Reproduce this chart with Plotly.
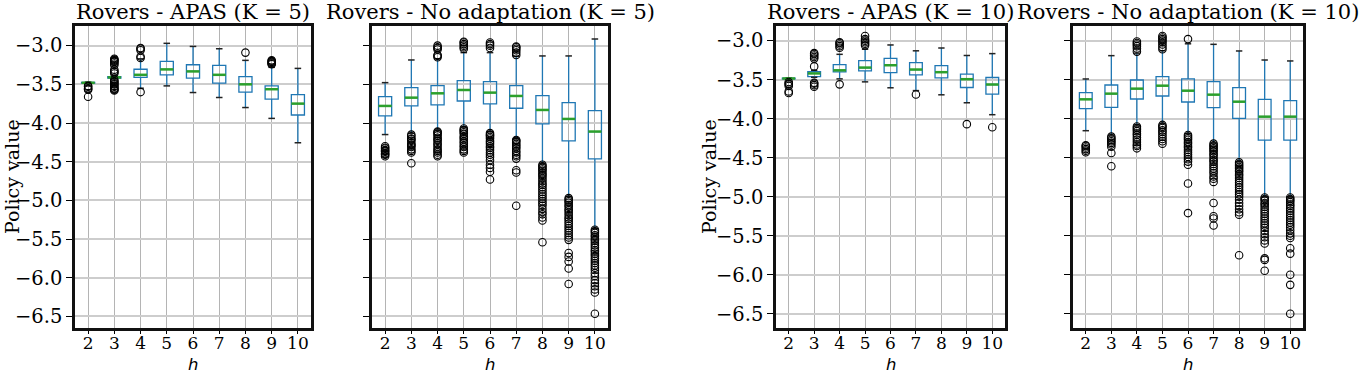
import plotly.graph_objects as go

h_values = [2, 3, 4, 5, 6, 7, 8, 9, 10]

titles = ["Rovers - APAS (K = 5)", "Rovers - No adaptation (K = 5)",
          "Rovers - APAS (K = 10)", "Rovers - No adaptation (K = 10)"]

# ---- Rovers - APAS (K = 5)
apas5_q1 = [-3.485, -3.42, -3.41, -3.377, -3.42, -3.485, -3.60, -3.69, -3.896]
apas5_median = [-3.48, -3.41, -3.377, -3.307, -3.333, -3.377, -3.50, -3.563, -3.749]
apas5_q3 = [-3.475, -3.40, -3.305, -3.203, -3.247, -3.255, -3.40, -3.52, -3.632]
apas5_low = [-3.49, -3.43, -3.55, -3.52, -3.606, -3.67, -3.80, -3.94, -4.255]
apas5_high = [-3.47, -3.39, -3.17, -2.97, -3.01, -3.04, -3.19, -3.28, -3.294]
apas5_outliers = [
    [-3.52, -3.53, -3.55, -3.56, -3.57, -3.66],
    [-3.17, -3.18, -3.19, -3.20, -3.21, -3.23, -3.25, -3.31, -3.33, -3.34, -3.36,
     -3.44, -3.46, -3.47, -3.49, -3.50, -3.52, -3.53, -3.55, -3.56, -3.57, -3.58],
    [-3.03, -3.04, -3.06, -3.14, -3.16, -3.60],
    [], [], [],
    [-3.09],
    [-3.19, -3.20, -3.21, -3.22, -3.23, -3.24],
    [],
]

# ---- Rovers - No adaptation (K = 5)
noad5_q1 = [-3.908, -3.779, -3.766, -3.715, -3.753, -3.809, -4.012, -4.231, -4.464]
noad5_median = [-3.779, -3.672, -3.616, -3.573, -3.607, -3.65, -3.831, -3.947, -4.11]
noad5_q3 = [-3.659, -3.542, -3.517, -3.452, -3.465, -3.517, -3.646, -3.736, -3.839]
noad5_low = [-4.149, -4.132, -4.09, -4.05, -4.11, -4.20, -4.52, -4.95, -5.36]
noad5_high = [-3.478, -3.185, -3.17, -3.09, -3.09, -3.14, -3.133, -3.133, -2.914]
noad5_outliers = [
    [-4.30, -4.32, -4.33, -4.35, -4.36, -4.37, -4.39, -4.40, -4.41, -4.43],
    [-4.15, -4.17, -4.20, -4.21, -4.23, -4.26, -4.28, -4.29, -4.31, -4.34, -4.36, -4.38, -4.52],
    [-3.00, -3.02, -3.03, -3.05, -3.12, -3.13, -3.15, -4.11, -4.12, -4.14, -4.16, -4.19,
     -4.21, -4.23, -4.26, -4.28, -4.31, -4.34, -4.36, -4.38, -4.41, -4.43],
    [-2.95, -2.96, -2.98, -3.00, -3.02, -3.04, -4.07, -4.09, -4.10, -4.12, -4.14, -4.17,
     -4.19, -4.21, -4.24, -4.26, -4.29, -4.31, -4.34, -4.36, -4.38],
    [-2.96, -2.98, -3.00, -3.03, -4.13, -4.15, -4.16, -4.18, -4.20, -4.23, -4.25, -4.27,
     -4.30, -4.32, -4.35, -4.38, -4.41, -4.44, -4.48, -4.54, -4.58, -4.63, -4.73],
    [-3.01, -3.02, -3.04, -3.06, -3.09, -3.12, -4.22, -4.23, -4.25, -4.27, -4.29, -4.31,
     -4.33, -4.36, -4.38, -4.41, -4.43, -4.46, -4.61, -4.64, -5.07],
    [-4.54, -4.56, -4.58, -4.60, -4.62, -4.65, -4.67, -4.69, -4.72, -4.75, -4.78, -4.80,
     -4.83, -4.86, -4.89, -4.92, -4.95, -4.98, -5.01, -5.04, -5.07, -5.11, -5.15, -5.18,
     -5.22, -5.26, -5.54],
    [-4.97, -4.99, -5.01, -5.03, -5.06, -5.08, -5.11, -5.13, -5.16, -5.19, -5.22, -5.24,
     -5.27, -5.30, -5.33, -5.36, -5.39, -5.42, -5.45, -5.48, -5.51, -5.68, -5.73, -5.79,
     -5.88, -6.08],
    [-5.38, -5.40, -5.42, -5.45, -5.47, -5.50, -5.52, -5.55, -5.58, -5.61, -5.64, -5.66,
     -5.69, -5.72, -5.75, -5.78, -5.81, -5.84, -5.87, -5.90, -5.94, -5.98, -6.03, -6.07,
     -6.11, -6.15, -6.19, -6.465],
]

# ---- Rovers - APAS (K = 10)
apas10_q1 = [-3.49, -3.46, -3.40, -3.387, -3.409, -3.438, -3.477, -3.60, -3.685]
apas10_median = [-3.485, -3.42, -3.38, -3.345, -3.315, -3.37, -3.404, -3.494, -3.562]
apas10_q3 = [-3.48, -3.396, -3.306, -3.255, -3.226, -3.281, -3.319, -3.43, -3.472]
apas10_low = [-3.495, -3.47, -3.49, -3.528, -3.604, -3.64, -3.694, -3.796, -3.949]
apas10_high = [-3.475, -3.38, -3.175, -3.11, -3.055, -3.13, -3.094, -3.19, -3.166]
apas10_outliers = [
    [-3.53, -3.55, -3.56, -3.58, -3.65, -3.67],
    [-3.16, -3.17, -3.19, -3.21, -3.23, -3.33, -3.54, -3.55, -3.57, -3.59],
    [-3.02, -3.03, -3.05, -3.07, -3.09, -3.56],
    [-2.94, -2.98, -3.00, -3.02, -3.04, -3.06],
    [],
    [-3.69],
    [],
    [-4.07],
    [-4.11],
]

# ---- Rovers - No adaptation (K = 10)
noad10_q1 = [-3.872, -3.855, -3.748, -3.709, -3.786, -3.859, -3.996, -4.274, -4.274]
noad10_median = [-3.752, -3.679, -3.615, -3.577, -3.641, -3.692, -3.782, -3.974, -3.974]
noad10_q3 = [-3.667, -3.568, -3.504, -3.462, -3.491, -3.526, -3.603, -3.752, -3.769]
noad10_low = [-4.154, -4.21, -4.08, -4.06, -4.19, -4.31, -4.55, -5.00, -5.00]
noad10_high = [-3.491, -3.192, -3.16, -3.13, -3.04, -3.047, -3.132, -3.248, -3.26]
noad10_outliers = [
    [-4.34, -4.35, -4.37, -4.39, -4.41, -4.43],
    [-4.23, -4.25, -4.27, -4.29, -4.31, -4.33, -4.36, -4.44, -4.61],
    [-3.01, -3.03, -3.05, -3.07, -3.10, -3.14, -4.10, -4.12, -4.14, -4.16, -4.19, -4.21,
     -4.24, -4.27, -4.30, -4.33, -4.35, -4.38],
    [-2.94, -2.96, -2.98, -3.00, -3.02, -3.05, -3.08, -3.11, -4.08, -4.10, -4.12, -4.15,
     -4.17, -4.20, -4.23, -4.26, -4.29, -4.32],
    [-2.98, -4.21, -4.23, -4.25, -4.27, -4.30, -4.32, -4.35, -4.37, -4.40, -4.43, -4.46,
     -4.49, -4.52, -4.55, -4.59, -4.83, -5.21],
    [-4.32, -4.34, -4.36, -4.38, -4.40, -4.42, -4.45, -4.47, -4.50, -4.53, -4.55, -4.58,
     -4.61, -4.64, -4.67, -4.70, -4.74, -4.77, -4.81, -5.08, -5.25, -5.28, -5.37],
    [-4.56, -4.58, -4.60, -4.62, -4.64, -4.66, -4.68, -4.71, -4.73, -4.76, -4.79, -4.82,
     -4.85, -4.88, -4.91, -4.94, -4.97, -5.00, -5.04, -5.08, -5.12, -5.16, -5.20, -5.23, -5.75],
    [-5.01, -5.03, -5.05, -5.08, -5.10, -5.13, -5.16, -5.19, -5.22, -5.25, -5.28, -5.31,
     -5.34, -5.37, -5.40, -5.44, -5.48, -5.52, -5.56, -5.60, -5.79, -5.81, -5.95],
    [-5.01, -5.03, -5.05, -5.07, -5.10, -5.12, -5.15, -5.18, -5.21, -5.24, -5.27, -5.30,
     -5.33, -5.36, -5.39, -5.43, -5.47, -5.50, -5.53, -5.66, -5.73, -6.00, -6.13, -6.50],
]

panels = [
    (apas5_q1, apas5_median, apas5_q3, apas5_low, apas5_high, apas5_outliers),
    (noad5_q1, noad5_median, noad5_q3, noad5_low, noad5_high, noad5_outliers),
    (apas10_q1, apas10_median, apas10_q3, apas10_low, apas10_high, apas10_outliers),
    (noad10_q1, noad10_median, noad10_q3, noad10_low, noad10_high, noad10_outliers),
]

# ---- layout constants (pixels of the 1364x374 canvas)
W, H = 1364, 374
x_px = [(75, 311), (372, 608), (776, 1005), (1073, 1303)]
y_px = (26, 328)
y_ranges = [[-6.649, -2.746], [-6.649, -2.746], [-6.683, -2.812], [-6.683, -2.812]]

BLUE = "#1f77b4"
GREEN = "#2ca02c"
SERIF = "DejaVu Serif"
BOX_W = 0.5
CAP_W = 0.25

fig = go.Figure()

for i, (q1, med, q3, lo, hi, outs) in enumerate(panels):
    xa = "x" if i == 0 else f"x{i+1}"
    ya = "y" if i == 0 else f"y{i+1}"
    fig.add_trace(go.Box(
        x=h_values, q1=q1, median=med, q3=q3, lowerfence=lo, upperfence=hi,
        width=BOX_W, boxpoints=False, whiskerwidth=0,
        line=dict(color=BLUE, width=1.3), fillcolor="rgba(0,0,0,0)",
        xaxis=xa, yaxis=ya, showlegend=False, hoverinfo="skip"))
    # caps
    cx, cy = [], []
    for h, a, b in zip(h_values, lo, hi):
        for v in (a, b):
            cx += [h - CAP_W / 2, h + CAP_W / 2, None]
            cy += [v, v, None]
    fig.add_trace(go.Scatter(x=cx, y=cy, mode="lines",
                             line=dict(color="#222222", width=1.5),
                             xaxis=xa, yaxis=ya, showlegend=False, hoverinfo="skip"))
    # medians
    mx, my = [], []
    for h, m in zip(h_values, med):
        mx += [h - BOX_W / 2, h + BOX_W / 2, None]
        my += [m, m, None]
    fig.add_trace(go.Scatter(x=mx, y=my, mode="lines",
                             line=dict(color=GREEN, width=2.5),
                             xaxis=xa, yaxis=ya, showlegend=False, hoverinfo="skip"))
    # outliers
    ox, oy = [], []
    for h, vals in zip(h_values, outs):
        ox += [h] * len(vals)
        oy += vals
    fig.add_trace(go.Scatter(x=ox, y=oy, mode="markers",
                             marker=dict(symbol="circle-open", size=7.5,
                                         color="black", line=dict(width=1.1)),
                             xaxis=xa, yaxis=ya, showlegend=False, hoverinfo="skip"))

ydom = [1 - y_px[1] / H, 1 - y_px[0] / H]
layout = dict(
    width=W, height=H, margin=dict(l=0, r=0, t=0, b=0),
    paper_bgcolor="white", plot_bgcolor="white",
    font=dict(family=SERIF, color="black"),
    showlegend=False,
)
annotations = []
for i in range(4):
    sx = "" if i == 0 else str(i + 1)
    xd = [x_px[i][0] / W, x_px[i][1] / W]
    layout["xaxis" + sx] = dict(
        domain=xd, anchor="y" + sx, range=[1.5, 10.5],
        tickmode="array", tickvals=h_values, ticktext=[str(h) for h in h_values],
        showgrid=True, gridcolor="#b4b4b4", gridwidth=1,
        ticks="outside", ticklen=3, tickcolor="black", ticklabelstandoff=-5,
        showline=True, mirror=True, linecolor="#111111", linewidth=2.5,
        zeroline=False, tickfont=dict(family=SERIF, size=17))
    layout["yaxis" + sx] = dict(
        domain=ydom, anchor="x" + sx, range=y_ranges[i],
        tick0=-3.0, dtick=0.5, tickformat=".1f",
        showgrid=True, gridcolor="#cdcdcd", gridwidth=2,
        ticks="outside", ticklen=6, tickcolor="black", ticklabelstandoff=0,
        showticklabels=(i % 2 == 0),
        showline=True, mirror=True, linecolor="#111111", linewidth=2.5,
        zeroline=False, tickfont=dict(family=SERIF, size=19.5))
    cx = (x_px[i][0] + x_px[i][1]) / 2 / W
    annotations.append(dict(text=titles[i], x=cx, y=ydom[1], xref="paper", yref="paper",
                            xanchor="center", yanchor="bottom", yshift=0, showarrow=False,
                            font=dict(family=SERIF, size=21, color="black")))
    annotations.append(dict(text="<i>h</i>", x=cx, y=0, xref="paper", yref="paper",
                            xanchor="center", yanchor="bottom", yshift=-2, showarrow=False,
                            font=dict(family="DejaVu Sans", size=16.5, color="black")))
for lx in (12, 709):
    annotations.append(dict(text="Policy value", x=lx / W, y=1 - 177 / H,
                            xref="paper", yref="paper", xanchor="center", yanchor="middle",
                            textangle=-90, showarrow=False,
                            font=dict(family=SERIF, size=19, color="black")))
layout["annotations"] = annotations
fig.update_layout(**layout)

fig.write_html("out.html", config={"displayModeBar": False},
               post_script="document.body.style.margin='0';document.body.style.overflow='hidden';")
